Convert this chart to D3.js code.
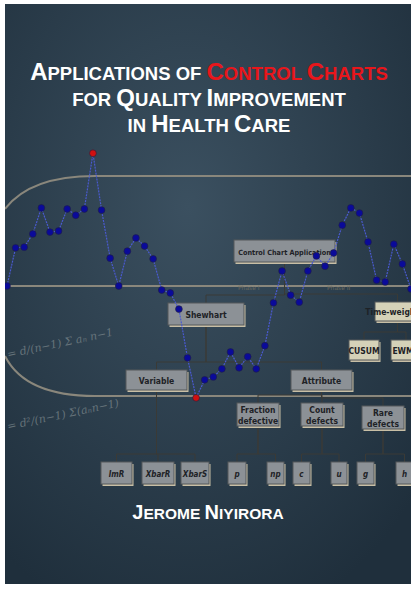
<!DOCTYPE html>
<html><head><meta charset="utf-8">
<script src="https://cdn.jsdelivr.net/npm/d3@7"></script>
<style>body{margin:0;background:#fff}</style>
</head><body>
<script>
const values=[0,1.04,1.06,1.42,2.13,1.47,1.50,2.10,1.93,2.10,3.62,2.07,0.76,0,0.95,1.31,1.09,0.74,-0.11,-0.19,-0.63,-1.96,-3.05,-2.56,-2.48,-2.26,-1.80,-2.23,-1.93,-2.26,-1.63,-0.46,0.41,-0.25,-0.44,0.41,0.82,0.54,0.90,1.66,2.13,1.99,1.20,0.16,0.11,1.14,0.60,-0.08];
const limits={ucl:3,cl:0,lcl:-3};
const titleLines=[[["Applications of ","#fff"],["Control Charts","#e8161b"]],[["for Quality Improvement","#fff"]],[["in Health Care","#fff"]]];
const author="Jerome Niyirora";
const boxLabels=["Control Chart Application","Shewhart","Time-weighted","CUSUM","EWMA","Variable","Attribute","Fraction|defective","Count|defects","Rare|defects","ImR","XbarR","XbarS","p","np","c","u","g","h"];
const smallWords=["of","for","in"];

const W=416,H=589;
const svg=d3.select("body").append("svg").attr("width",W).attr("height",H);
const defs=svg.append("defs");
const g=defs.append("radialGradient").attr("id","bg").attr("cx","45%").attr("cy","35%").attr("r","75%");
g.append("stop").attr("offset","0").attr("stop-color","#3b5060");
g.append("stop").attr("offset","1").attr("stop-color","#1f2f3c");
svg.append("rect").attr("x",5).attr("y",4).attr("width",406).attr("height",580).attr("fill","url(#bg)");
const clip=defs.append("clipPath").attr("id","cp");clip.append("rect").attr("x",5).attr("y",4).attr("width",406).attr("height",580);
const root=svg.append("g").attr("clip-path","url(#cp)");

const x=d3.scaleLinear().domain([0,values.length-1]).range([7,411]);
const y=d3.scaleLinear().domain([-3,3]).range([396,176]);

const lc="#8a877c";
root.append("path").attr("d",`M5,${y(limits.ucl)+33} Q30,${y(limits.ucl)} 95,${y(limits.ucl)} L416,${y(limits.ucl)}`).attr("fill","none").attr("stroke",lc).attr("stroke-width",2);
root.append("line").attr("x1",5).attr("x2",416).attr("y1",y(limits.cl)).attr("y2",y(limits.cl)).attr("stroke",lc).attr("stroke-width",2);
root.append("path").attr("d",`M5,${y(limits.lcl)-40} Q25,${y(limits.lcl)} 95,${y(limits.lcl)} L416,${y(limits.lcl)}`).attr("fill","none").attr("stroke",lc).attr("stroke-width",2);
root.append("text").attr("x",238).attr("y",y(0)+4).attr("font-size",6).attr("fill","#6b6a60").attr("font-family","DejaVu Sans").text("Phase I");
root.append("text").attr("x",327).attr("y",y(0)+4).attr("font-size",6).attr("fill","#6b6a60").attr("font-family","DejaVu Sans").text("Phase II");

const ff=root.append("g").attr("font-family","DejaVu Serif").attr("font-style","italic").attr("fill","#7f8a8e").attr("opacity",0.7);
ff.append("text").attr("x",8).attr("y",358).attr("font-size",11).attr("transform","rotate(-12 8 358)").text("= d/(n−1) Σ a\u2099 n−1");
ff.append("text").attr("x",8).attr("y",430).attr("font-size",11).attr("transform","rotate(-12 8 430)").text("= d²/(n−1) Σ(a\u2099n−1)");

const layout=[[234,240,101,22,"g"],[168,303,76,22,"g"],[375,302,45,19,"b"],[349,340,30,20,"b"],[391,340,30,20,"b"],[126,370,61,20,"g"],[291,370,61,20,"g"],[237,403,42,23,"g"],[301,403,42,23,"g"],[362,406,42,23,"g"],[101,462,31,22,"g"],[142,462,32,22,"g"],[181,462,28,22,"g"],[228,462,18,22,"g"],[267,462,17,22,"g"],[293,462,17,22,"g"],[331,462,16,22,"g"],[357,462,17,22,"g"],[396,462,17,22,"g"]];
const bx=boxLabels.map((l,i)=>({label:l,x:layout[i][0],y:layout[i][1],w:layout[i][2],h:layout[i][3],t:layout[i][4]}));
const cx=i=>bx[i].x+bx[i].w/2;
const con=root.append("g").attr("stroke","#3a3a36").attr("fill","none").attr("stroke-width",1);
function elbow(a,b){const y0=bx[a].y+bx[a].h, mid=bx[b].y-8;con.append("path").attr("d",`M${cx(a)},${y0} V${mid} H${cx(b)} V${bx[b].y}`);}
[[0,1],[0,2],[1,5],[1,6],[2,3],[2,4],[6,7],[6,8],[6,9],[5,10],[5,11],[5,12],[7,13],[7,14],[8,15],[8,16],[9,17],[9,18]].forEach(e=>elbow(...e));
const bg=root.selectAll("g.box").data(bx).join("g").attr("class","box");
bg.append("rect").attr("x",d=>d.x+1.5).attr("y",d=>d.y+2).attr("width",d=>d.w).attr("height",d=>d.h).attr("fill","#c8bfa6");
bg.append("rect").attr("x",d=>d.x).attr("y",d=>d.y).attr("width",d=>d.w).attr("height",d=>d.h).attr("fill",d=>d.t=="b"?"#d5d2b8":"#8c9196").attr("stroke","#55585a");
bg.each(function(d,i){const parts=d.label.split("|");const s=d3.select(this);
 const it=d.y>450;
 parts.forEach((p,k)=>s.append("text").attr("x",d.x+d.w/2).attr("y",d.y+d.h/2+3.5+(k-(parts.length-1)/2)*11).attr("text-anchor","middle").attr("font-family","Liberation Sans Narrow, DejaVu Sans Condensed, sans-serif").attr("font-size",i==0?7.2:(it?8:8.5)).attr("font-weight","bold").attr("font-style",it?"italic":"normal").attr("fill","#1e2226").text(p));});

root.append("path").datum(values).attr("d",d3.line().x((d,i)=>x(i)).y(d=>y(d))).attr("fill","none").attr("stroke","#4a5ad0").attr("stroke-width",1.2).attr("stroke-dasharray","2,1");
root.selectAll("circle.pt").data(values).join("circle").attr("class","pt").attr("cx",(d,i)=>x(i)).attr("cy",d=>y(d)).attr("r",3.4)
 .attr("fill",d=>(d>limits.ucl||d<limits.lcl)?"#d01010":"#0a0a9a").attr("stroke","#202040").attr("stroke-width",0.6);

const tf=svg.append("g").attr("font-family","Liberation Sans, Arial, sans-serif").attr("font-weight","bold").attr("text-anchor","middle");
function smallCaps(el,str,color,big,small){
 str.split(/(\s+)/).forEach(w=>{ if(!w)return; if(/\s/.test(w)){el.append("tspan").attr("font-size",small).attr("fill",color).text(" ");return;}
  if(smallWords.includes(w)){el.append("tspan").attr("font-size",small).attr("fill",color).text(w.toUpperCase());return;}
  el.append("tspan").attr("font-size",big).attr("fill",color).text(w[0].toUpperCase());
  if(w.length>1) el.append("tspan").attr("font-size",small).attr("fill",color).text(w.slice(1).toUpperCase());});
}
titleLines.forEach((line,i)=>{const t=tf.append("text").attr("x",209).attr("y",80+i*26);
 line.forEach(([s,c])=>smallCaps(t,s,c,24,18.5));});
const at=tf.append("text").attr("x",208).attr("y",519);smallCaps(at,author,"#fff",20,15.5);
</script></body></html>
